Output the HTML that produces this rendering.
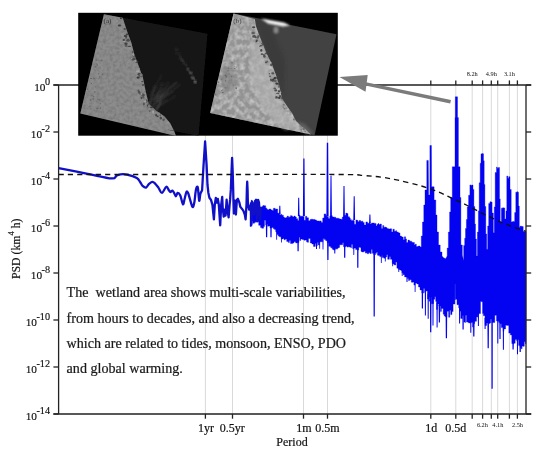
<!DOCTYPE html>
<html><head><meta charset="utf-8"><title>PSD wetland</title>
<style>html,body{margin:0;padding:0;background:#fff;}body{width:550px;height:457px;position:relative;overflow:hidden;}</style>
</head><body>
<svg width="550" height="457" viewBox="0 0 550 457" style="position:absolute;left:0;top:0">
<g stroke="#d9d9d9" stroke-width="1">
<line x1="205.4" y1="85" x2="205.4" y2="414"/>
<line x1="232.5" y1="85" x2="232.5" y2="414"/>
<line x1="303.5" y1="85" x2="303.5" y2="414"/>
<line x1="327.5" y1="85" x2="327.5" y2="414"/>
<line x1="430.8" y1="85" x2="430.8" y2="414"/>
<line x1="455.8" y1="85" x2="455.8" y2="414"/>
<line x1="472.2" y1="85" x2="472.2" y2="414"/>
<line x1="482.6" y1="85" x2="482.6" y2="414"/>
<line x1="491.3" y1="85" x2="491.3" y2="414"/>
<line x1="497.7" y1="85" x2="497.7" y2="414"/>
<line x1="509.4" y1="85" x2="509.4" y2="414"/>
<line x1="517.4" y1="85" x2="517.4" y2="414"/>
</g>
<path d="M250 202.4 L251.1 202.4 L251.1 200.2 L252.1 200.2 L252.1 204.4 L253.5 204.4 L253.5 202 L254.4 202 L254.4 200 L255.7 200 L255.7 201.6 L256.9 201.6 L256.9 200.2 L257.8 200.2 L257.8 202.8 L259.1 202.8 L259.1 205.8 L259.9 205.8 L259.9 209.1 L261.1 209.1 L261.1 208.5 L262 208.5 L262 206.4 L262.9 206.4 L262.9 205.5 L264.1 205.5 L264.1 205.7 L265.7 205.7 L265.7 208 L266.7 208 L266.7 209.2 L267.7 209.2 L267.7 209.8 L269.1 209.8 L269.1 209 L270.9 209 L270.9 209.9 L272.2 209.9 L272.2 210.4 L273.4 210.4 L273.4 208.3 L275.2 208.3 L275.2 209.3 L276.1 209.3 L276.1 209 L277.7 209 L277.7 213.1 L278.8 213.1 L278.8 214.1 L279.8 214.1 L279.8 214.9 L280.7 214.9 L280.7 214.3 L281.8 214.3 L281.8 215.2 L283.4 215.2 L283.4 217.1 L284.4 217.1 L284.4 218.1 L285.8 218.1 L285.8 217.4 L287.2 217.4 L287.2 216.1 L288.4 216.1 L288.4 217.3 L289.7 217.3 L289.7 216.8 L290.6 216.8 L290.6 215.6 L291.4 215.6 L291.4 215.9 L292.5 215.9 L292.5 217 L293.9 217 L293.9 216 L295.2 216 L295.2 217 L296.3 217 L296.3 218.7 L297.7 218.7 L297.7 220.4 L298.9 220.4 L298.9 215.2 L300 215.2 L300 216.2 L301.6 216.2 L301.6 216.3 L303.1 216.3 L303.1 216.4 L304.1 216.4 L304.1 220.3 L305.5 220.3 L305.5 216.3 L306.8 216.3 L306.8 217.8 L308.5 217.8 L308.5 220.8 L310.1 220.8 L310.1 219.5 L311.1 219.5 L311.1 219.2 L312.9 219.2 L312.9 219.5 L313.8 219.5 L313.8 219.4 L315.1 219.4 L315.1 220.1 L316.6 220.1 L316.6 220.9 L317.6 220.9 L317.6 220.9 L318.9 220.9 L318.9 221.2 L319.7 221.2 L319.7 220.9 L321.2 220.9 L321.2 222.5 L322.7 222.5 L322.7 218 L324.1 218 L324.1 213.9 L325.8 213.9 L325.8 215.5 L326.9 215.5 L326.9 216.5 L328.4 216.5 L328.4 218.6 L329.8 218.6 L329.8 216 L331.2 216 L331.2 215.8 L332.4 215.8 L332.4 217 L334.1 217 L334.1 217.2 L335.8 217.2 L335.8 218.3 L337.1 218.3 L337.1 218.2 L338.5 218.2 L338.5 218.6 L339.4 218.6 L339.4 219.1 L340.9 219.1 L340.9 219.2 L342.3 219.2 L342.3 217.1 L344.1 217.1 L344.1 215.3 L345.8 215.3 L345.8 213.1 L346.8 213.1 L346.8 213.6 L348 213.6 L348 216.8 L349.5 216.8 L349.5 218.1 L350.3 218.1 L350.3 219.7 L351.6 219.7 L351.6 221 L352.6 221 L352.6 219.9 L353.5 219.9 L353.5 220.8 L354.3 220.8 L354.3 224.2 L355.9 224.2 L355.9 220 L356.8 220 L356.8 220.3 L357.9 220.3 L357.9 221.7 L359.1 221.7 L359.1 220.5 L360.7 220.5 L360.7 221.5 L361.6 221.5 L361.6 221.2 L362.9 221.2 L362.9 222.4 L364.2 222.4 L364.2 225.1 L365.9 225.1 L365.9 221.9 L367.5 221.9 L367.5 223.3 L369.2 223.3 L369.2 222.5 L370.3 222.5 L370.3 224 L371.5 224 L371.5 223 L372.6 223 L372.6 223 L374.3 223 L374.3 223.4 L376.1 223.4 L376.1 226.1 L377 226.1 L377 224.5 L378 224.5 L378 223.6 L379 223.6 L379 224.6 L380.1 224.6 L380.1 224 L381.4 224 L381.4 228.4 L382.7 228.4 L382.7 225.6 L383.8 225.6 L383.8 227.4 L384.6 227.4 L384.6 227 L385.8 227 L385.8 227.5 L387 227.5 L387 228.5 L388.4 228.5 L388.4 228.9 L390.1 228.9 L390.1 228.8 L391.6 228.8 L391.6 232.1 L392.9 232.1 L392.9 229.2 L394.3 229.2 L394.3 231.3 L395.8 231.3 L395.8 230.7 L396.7 230.7 L396.7 232.1 L398.4 232.1 L398.4 232.9 L400 232.9 L400 236.1 L401.6 236.1 L401.6 237 L403.2 237 L403.2 239.7 L404.4 239.7 L404.4 236.8 L405.6 236.8 L405.6 239 L406.5 239 L406.5 242.5 L408 242.5 L408 240 L408.8 240 L408.8 240.3 L409.7 240.3 L409.7 241.3 L410.7 241.3 L410.7 241.2 L411.7 241.2 L411.7 242.3 L412.8 242.3 L412.8 242.4 L413.6 242.4 L413.6 242.5 L414.4 242.5 L414.4 245 L415.4 245 L415.4 244.1 L416.3 244.1 L416.3 246.4 L417.5 246.4 L417.5 246.6 L418.3 246.6 L418.3 246 L420 246 L420 246.9 L421.3 246.9 L421.3 246 L421.3 236 L422.5 236 L422.5 222 L423.8 222 L423.8 205 L425 205 L425 190 L426.8 190 L426.8 160.4 L428.3 160.4 L428.6 195 L429.9 195 L429.9 145.5 L431.4 145.5 L431.6 186.8 L434.1 186.8 L434.1 200 L435.8 200 L435.8 215 L437 215 L437 232 L438.5 232 L438.5 245 L440.2 245 L440.2 252 L442 252 L442 256 L443.6 257.8 L445.6 258.7 L447.2 256 L447.2 248 L448.4 248 L448.4 232 L449.6 232 L449.6 212 L450.7 212 L450.7 197.5 L452.3 197.5 L452.3 166.8 L455 166.8 L455 117.6 L455.3 117.6 L455.3 96.8 L457.5 96.8 L457.5 117.6 L458.4 117.6 L458.4 166.8 L460 166.8 L460 197.5 L460.9 197.5 L460.9 245 L462.3 245 L462.3 255 L463.7 260.7 L463.7 245.5 L464.7 245.5 L464.7 238.2 L465.5 238.2 L465.5 228.4 L466.4 228.4 L466.4 219.5 L467.3 219.5 L467.3 207 L468.6 207 L468.6 195.3 L469.9 195.3 L469.9 184.9 L470.9 184.9 L470.9 185.5 L471.7 185.5 L471.7 185 L473 185 L473 189.4 L473.9 189.4 L473.9 206.6 L474.8 206.6 L474.8 224.1 L475.5 224.1 L475.5 239 L476.4 239 L476.4 256.1 L477.4 256.1 L477.4 232.1 L478.4 232.1 L478.4 210.9 L479.2 210.9 L479.2 182.8 L480.2 182.8 L480.2 163.2 L481 163.2 L481 153.9 L481.8 153.9 L481.8 153.6 L482.6 153.6 L482.6 153.7 L483.5 153.7 L483.5 160.8 L484.2 160.8 L484.2 184.6 L484.9 184.6 L484.9 206.5 L485.8 206.5 L485.8 234 L486.7 234 L486.7 249.2 L487.7 249.2 L487.7 226.1 L488.7 226.1 L488.7 203.4 L489.9 203.4 L489.9 201.8 L491 201.8 L491 202.1 L492.1 202.1 L492.1 213.1 L493.3 213.1 L493.3 232.7 L494.3 232.7 L494.3 206.9 L495.2 206.9 L495.2 172.4 L496.5 172.4 L496.5 167 L497.2 167 L497.2 168.2 L498.4 168.2 L498.4 167.5 L499.5 167.5 L499.5 198.9 L500.2 198.9 L500.2 222 L501.4 222 L501.4 208.2 L502.6 208.2 L502.6 207.8 L503.7 207.8 L503.7 207.9 L504.8 207.9 L504.8 219 L506 219 L506 210.9 L506.8 210.9 L506.8 176 L507.8 176 L507.8 178.2 L508.8 178.2 L508.8 176.7 L510 176.7 L510 189.5 L511.2 189.5 L511.2 221.9 L512.4 221.9 L512.4 221.6 L513.5 221.6 L513.5 221.4 L514.7 221.4 L514.7 212.5 L515.8 212.5 L515.8 192.2 L516.9 192.2 L516.9 191.8 L517.8 191.8 L517.8 192.2 L518.5 192.2 L518.5 206.1 L519.3 206.1 L519.3 227.3 L520.2 227.3 L520.2 226.1 L520.9 226.1 L520.9 226.3 L522.1 226.3 L522.1 226.6 L523.2 226.6 L523.2 231.5 L524.3 231.5 L524.3 231.5 L525.3 231.5 L525.3 231.6 L526 231.6 L526 343.7 L525.4 343.7 L525.4 341.8 L524.3 341.8 L524.3 346.3 L522.9 346.3 L522.9 345.9 L522.1 345.9 L522.1 348.7 L521.2 348.7 L521.2 347.5 L520.2 347.5 L520.2 345.4 L518.6 345.4 L518.6 339.7 L517.6 339.7 L517.6 340.8 L516.7 340.8 L516.7 339.6 L515.2 339.6 L515.2 343.2 L514 343.2 L514 343.7 L512.9 343.7 L512.9 343.6 L511.8 343.6 L511.8 334.9 L510.4 334.9 L510.4 333.1 L508.8 333.1 L508.8 325.4 L507.2 325.4 L507.2 325.3 L505.6 325.3 L505.6 328.9 L504 328.9 L504 331.3 L503 331.3 L503 327.6 L501.3 327.6 L501.3 323.7 L500 323.7 L500 322.6 L498.8 322.6 L498.8 321.2 L497.7 321.2 L497.7 321 L496.5 321 L496.5 315.3 L494.8 315.3 L494.8 322.4 L493 322.4 L493 322.6 L491.8 322.6 L491.8 318.9 L490.7 318.9 L490.7 322.9 L489.9 322.9 L489.9 323.6 L488.2 323.6 L488.2 322.9 L486.7 322.9 L486.7 325.5 L485 325.5 L485 315.7 L483.4 315.7 L483.4 313.6 L482.6 313.6 L482.6 301.8 L481.6 301.8 L481.6 301.6 L480.5 301.6 L480.5 313.5 L478.9 313.5 L478.9 314.5 L477.9 314.5 L477.9 317 L476.5 317 L476.5 321.3 L474.7 321.3 L474.7 323.6 L473.6 323.6 L473.6 327.1 L472.5 327.1 L472.5 322.4 L470.8 322.4 L470.8 323 L469.2 323 L469.2 322.8 L468.2 322.8 L468.2 322.1 L466.5 322.1 L466.5 315.3 L465.6 315.3 L465.6 322.5 L464.8 322.5 L464.8 322 L463.9 322 L463.9 315.5 L462.4 315.5 L462.4 318.4 L460.7 318.4 L460.7 311.2 L459.5 311.2 L459.5 307.9 L458.7 307.9 L458.7 304.7 L457 304.7 L457 299.2 L455.8 299.2 L455.8 283.8 L454.9 283.8 L454.9 304.1 L453.1 304.1 L453.1 311.5 L452 311.5 L452 314.6 L450.7 314.6 L450.7 310.2 L449.8 310.2 L449.8 317.2 L448.6 317.2 L448.6 311.3 L447 311.3 L447 316.9 L445.4 316.9 L445.4 316.1 L444.2 316.1 L444.2 314.2 L443.2 314.2 L443.2 308.5 L441.4 308.5 L441.4 311.4 L440.5 311.4 L440.5 305.9 L438.8 305.9 L438.8 303.9 L437.6 303.9 L437.6 309.4 L436.5 309.4 L436.5 301.4 L435.7 301.4 L435.7 296.8 L434.8 296.8 L434.8 299.3 L433.6 299.3 L433.6 303.7 L432.4 303.7 L432.4 303.7 L431.3 303.7 L431.3 297.3 L429.8 297.3 L429.8 301.2 L429 301.2 L429 299 L427.4 299 L427.4 290.9 L425.7 290.9 L425.7 292.4 L424.7 292.4 L424.7 288.5 L423.6 288.5 L423.6 293.1 L421.8 293.1 L421.8 289.9 L420 289.9 L420 287 L418.5 287 L418.5 283.9 L416.8 283.9 L416.8 282.9 L415.1 282.9 L415.1 285.1 L413.9 285.1 L413.9 281.9 L413.1 281.9 L413.1 282.2 L412.2 282.2 L412.2 282.2 L411.3 282.2 L411.3 279.8 L409.5 279.8 L409.5 280.6 L408.5 280.6 L408.5 278.5 L407.3 278.5 L407.3 276.9 L406.4 276.9 L406.4 276.9 L404.6 276.9 L404.6 274.7 L403.1 274.7 L403.1 272.7 L401.9 272.7 L401.9 270.5 L400.9 270.5 L400.9 269.9 L399.9 269.9 L399.9 269.5 L398.6 269.5 L398.6 268.2 L396.9 268.2 L396.9 262 L395.8 262 L395.8 264.9 L394.2 264.9 L394.2 264.1 L393.2 264.1 L393.2 263.4 L392.2 263.4 L392.2 259.3 L390.5 259.3 L390.5 256.8 L389.4 256.8 L389.4 259.3 L387.7 259.3 L387.7 254.7 L386.7 254.7 L386.7 257 L385.3 257 L385.3 258.2 L383.8 258.2 L383.8 257.6 L382.2 257.6 L382.2 255.6 L381.2 255.6 L381.2 256.5 L379.7 256.5 L379.7 255.6 L378.5 255.6 L378.5 255.2 L377.4 255.2 L377.4 251.9 L376.5 251.9 L376.5 253.3 L375.5 253.3 L375.5 254.7 L373.8 254.7 L373.8 253.3 L372.3 253.3 L372.3 249.6 L371.3 249.6 L371.3 253.5 L370 253.5 L370 252.8 L368.6 252.8 L368.6 253.8 L367.3 253.8 L367.3 252.8 L366.4 252.8 L366.4 253.1 L365.3 253.1 L365.3 251.3 L363.8 251.3 L363.8 252 L362.1 252 L362.1 251.4 L361 251.4 L361 247.6 L360 247.6 L360 247.2 L358.7 247.2 L358.7 250.1 L357 250.1 L357 249.5 L355.6 249.5 L355.6 248.1 L353.8 248.1 L353.8 248.6 L352.6 248.6 L352.6 244.6 L351.5 244.6 L351.5 247.7 L350.7 247.7 L350.7 247.1 L349.3 247.1 L349.3 246.8 L348.2 246.8 L348.2 247.1 L347 247.1 L347 246.3 L345.7 246.3 L345.7 246.8 L344.3 246.8 L344.3 246.7 L343.5 246.7 L343.5 242.7 L342.6 242.7 L342.6 244.8 L341.1 244.8 L341.1 244.7 L339.6 244.7 L339.6 247.4 L338.6 247.4 L338.6 248 L337.6 248 L337.6 249.1 L336.5 249.1 L336.5 248.8 L335.1 248.8 L335.1 250 L333.4 250 L333.4 249.3 L332.3 249.3 L332.3 247.8 L330.8 247.8 L330.8 246.6 L329.9 246.6 L329.9 246.2 L328.6 246.2 L328.6 242.8 L327.3 242.8 L327.3 240.7 L325.7 240.7 L325.7 239.4 L324.3 239.4 L324.3 238.6 L322.8 238.6 L322.8 241.8 L321 241.8 L321 241.7 L319.5 241.7 L319.5 244.9 L318.2 244.9 L318.2 242.6 L317.3 242.6 L317.3 245.8 L316.4 245.8 L316.4 243.6 L315.3 243.6 L315.3 246.4 L313.5 246.4 L313.5 244 L311.9 244 L311.9 242.9 L310.3 242.9 L310.3 238.4 L308.5 238.4 L308.5 242.3 L307.3 242.3 L307.3 241.7 L306.5 241.7 L306.5 239.9 L305.2 239.9 L305.2 240.2 L303.9 240.2 L303.9 239.5 L302.2 239.5 L302.2 238.9 L300.7 238.9 L300.7 240.6 L299.8 240.6 L299.8 237.3 L299 237.3 L299 242.6 L297.4 242.6 L297.4 242.9 L295.7 242.9 L295.7 241.8 L293.9 241.8 L293.9 243 L292.7 243 L292.7 243.6 L291.5 243.6 L291.5 243.5 L290.5 243.5 L290.5 240.4 L289.4 240.4 L289.4 242.6 L288.4 242.6 L288.4 241.5 L286.7 241.5 L286.7 239.1 L285.3 239.1 L285.3 239.8 L284 239.8 L284 238.4 L283 238.4 L283 238.9 L281.3 238.9 L281.3 236.8 L280.2 236.8 L280.2 236.7 L279.3 236.7 L279.3 236 L278.2 236 L278.2 234.5 L277 234.5 L277 231.8 L275.7 231.8 L275.7 229.4 L274.5 229.4 L274.5 228.8 L273.3 228.8 L273.3 227.5 L271.7 227.5 L271.7 228 L270 228 L270 226.1 L268.7 226.1 L268.7 226.2 L267.6 226.2 L267.6 224.3 L266.6 224.3 L266.6 225 L265.7 225 L265.7 220.3 L264.5 220.3 L264.5 226.4 L263.6 226.4 L263.6 228.2 L262.7 228.2 L262.7 228.2 L261.7 228.2 L261.7 227.4 L260.5 227.4 L260.5 225.3 L258.7 225.3 L258.7 221.7 L257 221.7 L257 221.3 L255.9 221.3 L255.9 222.2 L254.6 222.2 L254.6 223.2 L252.9 223.2 L252.9 221.1 L251.9 221.1 L251.9 226.3 L251 226.3 L251 226.5 L250 226.5 Z" fill="#0303f2" stroke="#0303f2" stroke-width="0.35" stroke-linejoin="round"/>
<path d="M279 214 L279.3 205.8 L280.3 205.8 L280.6 214 Z M297.9 216 L298.2 197.8 L299.2 197.8 L299.5 216 Z M302.9 216 L303.3 158.5 L304.5 158.5 L304.9 216 Z M326.4 216 L326.8 142.8 L328.2 142.8 L328.6 216 Z M330.1 217 L330.5 175.6 L331.5 175.6 L331.9 217 Z M343.1 219 L343.5 186 L344.5 186 L344.9 219 Z M353.3 220 L353.7 196.3 L354.7 196.3 L355.1 220 Z M369.1 223 L369.4 214.5 L370.4 214.5 L370.7 223 Z M265.8 218.1 L266 237.3 L267.2 237.3 L267.4 218.1 Z M270.2 220.3 L270.4 237.3 L271.6 237.3 L271.8 220.3 Z M297.3 234.8 L297.5 251.3 L298.7 251.3 L298.9 234.8 Z M315.9 240 L316 249 L317 249 L317.1 240 Z M327.1 236.3 L327.3 260 L328.5 260 L328.7 236.3 Z M334.2 243 L334.3 253.5 L335.3 253.5 L335.4 243 Z M344 239.4 L344.1 257.8 L345.3 257.8 L345.4 239.4 Z M357.1 242.5 L357.2 267.7 L358.4 267.7 L358.5 242.5 Z M373.4 247.5 L373.6 316.6 L374.8 316.6 L375 247.5 Z M406.4 270.9 L406.5 282 L407.5 282 L407.6 270.9 Z M421.7 285.7 L421.8 308.5 L423 308.5 L423.1 285.7 Z M429.9 296.8 L430.1 332.2 L431.3 332.2 L431.5 296.8 Z M438.6 305 L438.8 322.6 L440 322.6 L440.2 305 Z M445.6 311.2 L445.8 338.3 L447 338.3 L447.2 311.2 Z M462.4 314.6 L462.5 329.6 L463.7 329.6 L463.8 314.6 Z M473 319.6 L473.2 336.4 L474.4 336.4 L474.6 319.6 Z M487.4 319.2 L487.6 348.2 L488.8 348.2 L489 319.2 Z M491.4 318.6 L491.5 388.8 L492.7 388.8 L492.8 318.6 Z M499.3 319.2 L499.4 339 L500.6 339 L500.7 319.2 Z M512.3 339 L512.5 349.5 L513.7 349.5 L513.9 339 Z M519.4 340 L519.6 352.1 L520.8 352.1 L521 340 Z M470.2 317.9 L470.3 332.7 L471.3 332.7 L471.4 317.9 Z M502.8 324.9 L502.9 349.7 L503.9 349.7 L504 324.9 Z M459 302.7 L459.1 323.6 L460.1 323.6 L460.2 302.7 Z M427.6 294.2 L427.7 318.7 L428.7 318.7 L428.8 294.2 Z M424.8 287.7 L424.9 315.6 L425.9 315.6 L426 287.7 Z M497.2 317.6 L497.3 343.5 L498.3 343.5 L498.4 317.6 Z M484.5 317.7 L484.6 329.1 L485.6 329.1 L485.7 317.7 Z M454.6 280.2 L454.7 299.7 L455.7 299.7 L455.8 280.2 Z M432.4 298.5 L432.5 325.4 L433.5 325.4 L433.6 298.5 Z M436.5 302.5 L436.6 327.4 L437.6 327.4 L437.7 302.5 Z M516.9 335.6 L517 354.3 L518 354.3 L518.1 335.6 Z M477.8 309.3 L477.9 326.1 L478.9 326.1 L479 309.3 Z M398.2 261.5 L398.4 271.9 L399.2 271.9 L399.4 261.5 Z M384.8 251.3 L384.9 261.5 L385.7 261.5 L385.9 251.3 Z M414.6 277.7 L414.7 292 L415.5 292 L415.7 277.7 Z M380.8 249.3 L380.9 262.9 L381.7 262.9 L381.9 249.3 Z M353.2 241.5 L353.4 254.9 L354.2 254.9 L354.4 241.5 Z M280.8 230.8 L281 242.6 L281.8 242.6 L281.9 230.8 Z M392.1 256.1 L392.3 266.3 L393.1 266.3 L393.2 256.1 Z M401.6 264.6 L401.8 276.1 L402.6 276.1 L402.8 264.6 Z M319.1 237 L319.3 248.7 L320.1 248.7 L320.2 237 Z M322.4 234.5 L322.6 249.5 L323.4 249.5 L323.6 234.5 Z M276.1 226.3 L276.3 239.7 L277.1 239.7 L277.2 226.3 Z " fill="#0303f2" stroke="none"/>
<path d="M58.6 168.1 C63.5 169.1 78.9 172.1 87.7 173.8 C96.5 175.5 106.7 178.1 111.5 178.4 C116.3 178.8 114.9 176.6 116.4 175.9 C117.9 175.2 118.7 174.5 120.5 174.3 C122.3 174.1 124.3 174 127 174.6 C129.7 175.2 134.6 176.7 136.8 177.9 C139 179.1 139.1 180.7 140.1 182 C141.1 183.3 141.6 185 142.6 185.9 C143.6 186.8 145.1 187.9 146.1 187.6 C147.1 187.3 147.8 185 148.8 184.1 C149.8 183.2 151.3 182 152.3 181.9 C153.3 181.8 153.9 182.4 154.9 183.3 C155.9 184.2 157.2 186 158.4 187.6 C159.6 189.2 160.6 193 161.9 192.9 C163.2 192.8 165.1 187.2 166.3 186.8 C167.5 186.4 168.2 189.4 168.9 190.3 C169.6 191.2 170 191.9 170.6 192 C171.2 192.1 171.8 190.4 172.4 190.6 C173 190.8 173.5 191.9 174.1 192.9 C174.7 193.9 175.3 196.4 175.9 196.4 C176.5 196.4 176.9 193.1 177.6 192.9 C178.3 192.8 179.4 193.6 180.3 195.5 C181.2 197.4 182.2 203.7 182.9 204.3 C183.6 204.9 184 201.1 184.6 199 C185.2 196.9 185.8 193 186.4 192 C187 191 187.5 191.7 188.1 192.9 C188.7 194.1 189.2 196.7 189.9 199 C190.6 201.3 191.8 206.3 192.5 206.9 C193.2 207.5 193.7 205.4 194.3 202.5 C194.9 199.6 195.4 191.9 196 189.4 C196.6 186.9 197.3 185.7 197.8 187.6 C198.3 189.5 198.8 199.8 199.2 200.8 C199.6 201.8 199.9 195.6 200.4 193.8 C200.9 192.1 201.8 190.9 202.1 190.3 L203.4 167.5 L205.1 141.5 L206.6 165 L207.5 185 L208.4 193 L209.4 197.8 L210.9 199.7 L212.4 204.7 L213.9 219.4 L214.8 204.7 L215.8 197.8 L216.8 202.7 L217.8 198.8 L218.8 204.7 L220.2 225.3 L221.2 204.7 L222.2 196.8 L222.7 207.6 L223.7 216.5 L224.7 209.6 L225.6 215.5 L226.6 199.7 L227.6 210.6 L228.6 217.4 L229.6 204.7 L230.1 199.7 L230.8 189.9 L231.5 172 L232.1 157.8 L232.7 172 L233.2 190 L233.4 198.8 L233.9 213.5 L234.9 200.7 L235.9 214.5 L236.9 199.8 L237.9 198.8 L239.4 202.7 L240.3 206.7 L241.8 208.6 L243.3 210.6 L244.8 214.5 L245.6 219.4 L246.5 204.7 L246.9 188 L247.2 181.7 L247.6 190 L247.9 204.7 L249.2 209.6 L250.7 204.7 L251.5 224.4 L252.1 201.7 L252.8 204.7 L254.1 214.5 L255.1 201.7 L256.1 199.8 L257.1 221.4 L258.1 199.8 L259 202.7 L260 219.4 L261 206.7" fill="none" stroke="#1010c8" stroke-width="2.3" stroke-linejoin="round"/>
<path d="M58.6 174.5 C82.2 174.5 153.1 174.5 200 174.5 C246.9 174.5 312.8 174.3 340 174.5 C367.2 174.7 356.2 175.1 363 175.5 C369.8 175.9 375.2 176.3 381 177.1 C386.8 177.9 391.5 178.8 398 180.2 C404.5 181.6 413.3 183.7 420 185.6 C426.7 187.5 432.7 189.7 438 191.8 C443.3 193.9 447.1 196 452 198.3 C456.9 200.6 461.9 202.8 467.3 205.5 C472.8 208.2 478.9 211.8 484.7 214.6 C490.5 217.4 497.1 220.5 502 222.6 C506.9 224.7 510 225.7 514 227.2 C518 228.7 524 230.7 526 231.4" fill="none" stroke="#111" stroke-width="1.35" stroke-dasharray="5.2 4.13"/>
<g stroke="#222" stroke-width="1.3" fill="none">
<path d="M58.6 85 V414 M53.4 85 H531.2 M53.4 414 H531.2 M526 85 V414"/>
<line x1="53.4" y1="85" x2="58.6" y2="85"/>
<line x1="526" y1="85" x2="531.2" y2="85"/>
<line x1="53.4" y1="132" x2="58.6" y2="132"/>
<line x1="526" y1="132" x2="531.2" y2="132"/>
<line x1="53.4" y1="179" x2="58.6" y2="179"/>
<line x1="526" y1="179" x2="531.2" y2="179"/>
<line x1="53.4" y1="226" x2="58.6" y2="226"/>
<line x1="526" y1="226" x2="531.2" y2="226"/>
<line x1="53.4" y1="273" x2="58.6" y2="273"/>
<line x1="526" y1="273" x2="531.2" y2="273"/>
<line x1="53.4" y1="320" x2="58.6" y2="320"/>
<line x1="526" y1="320" x2="531.2" y2="320"/>
<line x1="53.4" y1="367" x2="58.6" y2="367"/>
<line x1="526" y1="367" x2="531.2" y2="367"/>
<line x1="53.4" y1="414" x2="58.6" y2="414"/>
<line x1="526" y1="414" x2="531.2" y2="414"/>
<line x1="430.8" y1="80.4" x2="430.8" y2="85"/>
<line x1="455.8" y1="80.4" x2="455.8" y2="85"/>
<line x1="472.2" y1="80.4" x2="472.2" y2="85"/>
<line x1="482.6" y1="80.4" x2="482.6" y2="85"/>
<line x1="491.3" y1="80.4" x2="491.3" y2="85"/>
<line x1="497.7" y1="80.4" x2="497.7" y2="85"/>
<line x1="509.4" y1="80.4" x2="509.4" y2="85"/>
<line x1="517.4" y1="80.4" x2="517.4" y2="85"/>
<line x1="205.4" y1="414" x2="205.4" y2="418.7"/>
<line x1="232.5" y1="414" x2="232.5" y2="418.7"/>
<line x1="303.5" y1="414" x2="303.5" y2="418.7"/>
<line x1="327.5" y1="414" x2="327.5" y2="418.7"/>
<line x1="430.8" y1="414" x2="430.8" y2="418.7"/>
<line x1="455.8" y1="414" x2="455.8" y2="418.7"/>
<line x1="472.2" y1="414" x2="472.2" y2="418.7"/>
<line x1="482.6" y1="414" x2="482.6" y2="418.7"/>
<line x1="491.3" y1="414" x2="491.3" y2="418.7"/>
<line x1="497.7" y1="414" x2="497.7" y2="418.7"/>
<line x1="509.4" y1="414" x2="509.4" y2="418.7"/>
<line x1="517.4" y1="414" x2="517.4" y2="418.7"/>
</g>
<defs>
<filter id="tex" x="0" y="0" width="1" height="1"><feTurbulence type="fractalNoise" baseFrequency="0.3" numOctaves="2" seed="5" result="n"/><feColorMatrix in="n" type="matrix" values="0 0 0 0 0  0 0 0 0 0  0 0 0 0 0  0.6 0 0 0 -0.22" result="m"/><feComposite in="m" in2="SourceGraphic" operator="in" result="c"/><feMerge><feMergeNode in="SourceGraphic"/><feMergeNode in="c"/></feMerge></filter><filter id="tex2" x="0" y="0" width="1" height="1"><feTurbulence type="fractalNoise" baseFrequency="0.2" numOctaves="2" seed="9" result="n"/><feColorMatrix in="n" type="matrix" values="0 0 0 0 1  0 0 0 0 1  0 0 0 0 1  0.8 0 0 0 -0.3" result="m"/><feComposite in="m" in2="SourceGraphic" operator="in" result="c"/><feMerge><feMergeNode in="SourceGraphic"/><feMergeNode in="c"/></feMerge></filter><filter id="blur1" x="-20%" y="-20%" width="140%" height="140%"><feGaussianBlur stdDeviation="0.8"/></filter><filter id="blur2" x="-20%" y="-20%" width="140%" height="140%"><feGaussianBlur stdDeviation="1.6"/></filter><filter id="soft"><feGaussianBlur stdDeviation="0.45"/></filter><clipPath id="clipA"><polygon points="103.9,14.2 207.5,33.8 198.5,135.7 80.3,113.6"/></clipPath><clipPath id="clipB"><polygon points="233.5,13.4 336.5,34.2 314.6,135.2 210.1,113"/></clipPath><clipPath id="clipI"><rect x="78.2" y="12.8" width="259.6" height="122.9"/></clipPath>
</defs>
<rect x="78.2" y="12.8" width="259.6" height="122.9" fill="#000"/>
<g clip-path="url(#clipI)"><g filter="url(#soft)">
<polygon points="103.9,14.2 207.5,33.8 198.5,135.7 80.3,113.6" fill="#171717"/>
<polygon points="103.9,14.2 122.7,17.8 127,31.1 131.4,42.7 134.3,54.3 138.6,65.8 142.9,77.4 145.8,91.8 148.7,103.4 156,110.6 164.6,116.4 170.4,123.6 174.7,132.3 176,136 80.3,113.6" fill="#8c8c8c" filter="url(#tex)"/>
<ellipse cx="175.9" cy="49.1" rx="0.8" ry="0.8" fill="rgb(50,50,50)" filter="url(#blur1)"/>
<ellipse cx="176.9" cy="49.5" rx="0.9" ry="0.9" fill="rgb(50,50,50)" filter="url(#blur1)"/>
<ellipse cx="176.6" cy="50.9" rx="1.1" ry="0.8" fill="rgb(50,50,50)" filter="url(#blur1)"/>
<ellipse cx="177.2" cy="53.4" rx="1" ry="0.8" fill="rgb(52,52,52)" filter="url(#blur1)"/>
<ellipse cx="178.1" cy="52.7" rx="0.5" ry="0.6" fill="rgb(53,53,53)" filter="url(#blur1)"/>
<ellipse cx="178.9" cy="53.8" rx="0.8" ry="0.9" fill="rgb(54,54,54)" filter="url(#blur1)"/>
<ellipse cx="180.2" cy="56.2" rx="1" ry="0.7" fill="rgb(56,56,56)" filter="url(#blur1)"/>
<ellipse cx="180.4" cy="58.1" rx="1.1" ry="0.9" fill="rgb(61,61,61)" filter="url(#blur1)"/>
<ellipse cx="181.1" cy="57.7" rx="0.5" ry="0.9" fill="rgb(61,61,61)" filter="url(#blur1)"/>
<ellipse cx="182" cy="60.1" rx="1.2" ry="0.9" fill="rgb(64,64,64)" filter="url(#blur1)"/>
<ellipse cx="181.9" cy="60" rx="0.8" ry="1" fill="rgb(71,71,71)" filter="url(#blur1)"/>
<ellipse cx="183.4" cy="60.9" rx="1" ry="0.6" fill="rgb(74,74,74)" filter="url(#blur1)"/>
<ellipse cx="183.5" cy="62.5" rx="1" ry="0.6" fill="rgb(82,82,82)" filter="url(#blur1)"/>
<ellipse cx="184.5" cy="63.2" rx="1.1" ry="0.6" fill="rgb(77,77,77)" filter="url(#blur1)"/>
<ellipse cx="185.8" cy="65.1" rx="1" ry="0.6" fill="rgb(83,83,83)" filter="url(#blur1)"/>
<ellipse cx="186.6" cy="65.6" rx="0.6" ry="0.6" fill="rgb(91,91,91)" filter="url(#blur1)"/>
<ellipse cx="188" cy="68.1" rx="1.1" ry="0.6" fill="rgb(95,95,95)" filter="url(#blur1)"/>
<ellipse cx="187.5" cy="69.3" rx="0.6" ry="1" fill="rgb(108,108,108)" filter="url(#blur1)"/>
<ellipse cx="187.8" cy="69.3" rx="0.7" ry="0.6" fill="rgb(118,118,118)" filter="url(#blur1)"/>
<ellipse cx="188.3" cy="70.1" rx="0.7" ry="0.8" fill="rgb(121,121,121)" filter="url(#blur1)"/>
<ellipse cx="189.5" cy="72" rx="0.8" ry="0.8" fill="rgb(139,139,139)" filter="url(#blur1)"/>
<ellipse cx="191.2" cy="72.6" rx="1.1" ry="0.9" fill="rgb(124,124,124)" filter="url(#blur1)"/>
<ellipse cx="190.7" cy="73.8" rx="1.2" ry="0.6" fill="rgb(150,150,150)" filter="url(#blur1)"/>
<ellipse cx="192.8" cy="76.3" rx="0.8" ry="0.6" fill="rgb(155,155,155)" filter="url(#blur1)"/>
<ellipse cx="191.6" cy="77.6" rx="1" ry="0.6" fill="rgb(150,150,150)" filter="url(#blur1)"/>
<ellipse cx="193.9" cy="78.1" rx="0.6" ry="0.9" fill="rgb(161,161,161)" filter="url(#blur1)"/>
<ellipse cx="193.1" cy="78.5" rx="1.1" ry="0.8" fill="rgb(182,182,182)" filter="url(#blur1)"/>
<ellipse cx="194.2" cy="81" rx="0.5" ry="0.6" fill="rgb(175,175,175)" filter="url(#blur1)"/>
<ellipse cx="195.2" cy="80.5" rx="0.8" ry="0.8" fill="rgb(183,183,183)" filter="url(#blur1)"/>
<ellipse cx="195.3" cy="82.2" rx="1.2" ry="0.8" fill="rgb(233,233,233)" filter="url(#blur1)"/>
<line x1="155.3" y1="105.4" x2="159.2" y2="95.3" stroke="rgb(51,51,51)" stroke-width="0.8" opacity="0.8" filter="url(#blur1)"/>
<line x1="152.7" y1="101.7" x2="157.9" y2="92.3" stroke="rgb(88,88,88)" stroke-width="0.8" opacity="0.8" filter="url(#blur1)"/>
<line x1="154.6" y1="103.7" x2="167.3" y2="92.3" stroke="rgb(54,54,54)" stroke-width="0.8" opacity="0.8" filter="url(#blur1)"/>
<line x1="147.9" y1="104.7" x2="170.1" y2="84.9" stroke="rgb(58,58,58)" stroke-width="0.8" opacity="0.8" filter="url(#blur1)"/>
<line x1="156.5" y1="110.6" x2="169.4" y2="89.1" stroke="rgb(54,54,54)" stroke-width="0.8" opacity="0.8" filter="url(#blur1)"/>
<line x1="157.5" y1="102.7" x2="179.9" y2="84.3" stroke="rgb(86,86,86)" stroke-width="0.8" opacity="0.8" filter="url(#blur1)"/>
<line x1="147.2" y1="106.6" x2="152.6" y2="97.9" stroke="rgb(54,54,54)" stroke-width="0.8" opacity="0.8" filter="url(#blur1)"/>
<line x1="148" y1="106.2" x2="173.3" y2="91.4" stroke="rgb(71,71,71)" stroke-width="0.8" opacity="0.8" filter="url(#blur1)"/>
<line x1="151.7" y1="107.8" x2="164.6" y2="92.9" stroke="rgb(84,84,84)" stroke-width="0.8" opacity="0.8" filter="url(#blur1)"/>
<line x1="148" y1="108" x2="154.5" y2="85.7" stroke="rgb(80,80,80)" stroke-width="0.8" opacity="0.8" filter="url(#blur1)"/>
<line x1="147.3" y1="111.3" x2="156.6" y2="85.8" stroke="rgb(81,81,81)" stroke-width="0.8" opacity="0.8" filter="url(#blur1)"/>
<line x1="150.1" y1="96.2" x2="162" y2="74.3" stroke="rgb(62,62,62)" stroke-width="0.8" opacity="0.8" filter="url(#blur1)"/>
<line x1="153.2" y1="108.1" x2="168.6" y2="81.8" stroke="rgb(81,81,81)" stroke-width="0.8" opacity="0.8" filter="url(#blur1)"/>
<line x1="157.7" y1="101.2" x2="167.9" y2="91.1" stroke="rgb(77,77,77)" stroke-width="0.8" opacity="0.8" filter="url(#blur1)"/>
<line x1="156.6" y1="108.1" x2="162.6" y2="94.6" stroke="rgb(64,64,64)" stroke-width="0.8" opacity="0.8" filter="url(#blur1)"/>
<line x1="154" y1="101.1" x2="161.5" y2="81.5" stroke="rgb(52,52,52)" stroke-width="0.8" opacity="0.8" filter="url(#blur1)"/>
<line x1="155.5" y1="111.2" x2="161.9" y2="99" stroke="rgb(78,78,78)" stroke-width="0.8" opacity="0.8" filter="url(#blur1)"/>
<line x1="152.7" y1="110.8" x2="167.2" y2="99.6" stroke="rgb(83,83,83)" stroke-width="0.8" opacity="0.8" filter="url(#blur1)"/>
<line x1="152.9" y1="101" x2="178.1" y2="81.9" stroke="rgb(78,78,78)" stroke-width="0.8" opacity="0.8" filter="url(#blur1)"/>
<line x1="150.8" y1="109.3" x2="161.6" y2="88.5" stroke="rgb(67,67,67)" stroke-width="0.8" opacity="0.8" filter="url(#blur1)"/>
<line x1="153.8" y1="100.9" x2="161.9" y2="94.3" stroke="rgb(58,58,58)" stroke-width="0.8" opacity="0.8" filter="url(#blur1)"/>
<line x1="151.9" y1="99" x2="163.9" y2="88.8" stroke="rgb(59,59,59)" stroke-width="0.8" opacity="0.8" filter="url(#blur1)"/>
<line x1="156.6" y1="111.7" x2="160.8" y2="100.1" stroke="rgb(84,84,84)" stroke-width="0.8" opacity="0.8" filter="url(#blur1)"/>
<line x1="154.9" y1="108.9" x2="176.1" y2="95.7" stroke="rgb(62,62,62)" stroke-width="0.8" opacity="0.8" filter="url(#blur1)"/>
<line x1="156.9" y1="100.1" x2="176.4" y2="82" stroke="rgb(84,84,84)" stroke-width="0.8" opacity="0.8" filter="url(#blur1)"/>
<line x1="155.6" y1="98.9" x2="163.6" y2="83.2" stroke="rgb(83,83,83)" stroke-width="0.8" opacity="0.8" filter="url(#blur1)"/>
<polygon points="233.5,13.4 336.5,34.2 314.6,135.2 210.1,113" fill="#424242"/>
<polygon points="254.8,18.9 268,21 285,60 284,95 272,70" fill="#3a3a3a" filter="url(#blur2)"/>
<polygon points="296,121 305,124 314,134 305,134" fill="#6a6a6a" opacity="0.7" filter="url(#blur2)"/>
<polygon points="233.5,13.4 254.8,18.9 256.2,27.1 260.5,38.5 266.2,52.7 271.9,64.1 276.1,75.5 279.6,86.8 281.8,98.2 287.5,106.8 292,113 296,121 300,125 305,129 311,134.5 210.1,113" fill="#939393" filter="url(#tex2)"/>
<polygon points="250,40 262,45 272,80 283,108 300,128 285,130 262,110 250,80" fill="#b4b4b4" opacity="0.6" filter="url(#blur2)"/>
<polygon points="224,65 233,68 236,85 228,92 220,86" fill="#7c7c7c" opacity="0.6" filter="url(#blur2)"/>
<path d="M261 18.5 L284 22.5 L290 25.5 L283 26.5 L268 23.5 Z" fill="#f0f0f0" filter="url(#blur1)"/>
<ellipse cx="276" cy="30" rx="2.5" ry="3.5" fill="#8a8a8a" filter="url(#blur1)"/>
<g clip-path="url(#clipA)">
<ellipse cx="155.9" cy="114.2" rx="0.8" ry="1.5" fill="rgb(59,59,59)" opacity="0.85"/>
<ellipse cx="171.8" cy="133.7" rx="1.1" ry="1.2" fill="rgb(45,45,45)" opacity="0.85"/>
<ellipse cx="156.2" cy="115.2" rx="0.8" ry="1.4" fill="rgb(58,58,58)" opacity="0.85"/>
<ellipse cx="173.1" cy="131.6" rx="1.8" ry="1.5" fill="rgb(69,69,69)" opacity="0.85"/>
<ellipse cx="157.8" cy="116.3" rx="1.1" ry="0.8" fill="rgb(46,46,46)" opacity="0.85"/>
<ellipse cx="148" cy="105.9" rx="0.9" ry="1.4" fill="rgb(46,46,46)" opacity="0.85"/>
<ellipse cx="146.5" cy="101.1" rx="1.2" ry="1.5" fill="rgb(53,53,53)" opacity="0.85"/>
<ellipse cx="170.5" cy="134.2" rx="1.3" ry="1.3" fill="rgb(76,76,76)" opacity="0.85"/>
<ellipse cx="132.1" cy="59.4" rx="1.4" ry="1.1" fill="rgb(165,165,165)" opacity="0.85"/>
<ellipse cx="153.3" cy="112.1" rx="0.9" ry="1.4" fill="rgb(169,169,169)" opacity="0.85"/>
<ellipse cx="156.3" cy="113.6" rx="0.8" ry="0.7" fill="rgb(79,79,79)" opacity="0.85"/>
<ellipse cx="139.1" cy="92.1" rx="1.3" ry="1.5" fill="rgb(70,70,70)" opacity="0.85"/>
<ellipse cx="124.2" cy="36.8" rx="1.2" ry="1.5" fill="rgb(79,79,79)" opacity="0.85"/>
<ellipse cx="143" cy="94.9" rx="1.7" ry="1.5" fill="rgb(72,72,72)" opacity="0.85"/>
<ellipse cx="151.3" cy="107.2" rx="1.7" ry="0.8" fill="rgb(46,46,46)" opacity="0.85"/>
<ellipse cx="121.3" cy="18.3" rx="1.1" ry="1" fill="rgb(63,63,63)" opacity="0.85"/>
<ellipse cx="163.7" cy="120" rx="1.4" ry="1.3" fill="rgb(77,77,77)" opacity="0.85"/>
<ellipse cx="172.1" cy="134.3" rx="1.6" ry="1.2" fill="rgb(71,71,71)" opacity="0.85"/>
<ellipse cx="153.2" cy="111.8" rx="0.9" ry="1.2" fill="rgb(163,163,163)" opacity="0.85"/>
<ellipse cx="167.6" cy="122.6" rx="1.7" ry="1" fill="rgb(152,152,152)" opacity="0.85"/>
<ellipse cx="143.7" cy="90.2" rx="1.7" ry="0.8" fill="rgb(142,142,142)" opacity="0.85"/>
<ellipse cx="133.8" cy="55.8" rx="1.6" ry="1.1" fill="rgb(72,72,72)" opacity="0.85"/>
<ellipse cx="171.7" cy="132.8" rx="0.8" ry="1.2" fill="rgb(131,131,131)" opacity="0.85"/>
<ellipse cx="138.7" cy="90.5" rx="1.4" ry="1" fill="rgb(77,77,77)" opacity="0.85"/>
<ellipse cx="168.3" cy="130.8" rx="0.7" ry="1.2" fill="rgb(46,46,46)" opacity="0.85"/>
<ellipse cx="160.2" cy="115.8" rx="0.9" ry="1.4" fill="rgb(52,52,52)" opacity="0.85"/>
<ellipse cx="141.5" cy="76.6" rx="0.8" ry="0.8" fill="rgb(74,74,74)" opacity="0.85"/>
<ellipse cx="143.3" cy="97.2" rx="1.1" ry="1.2" fill="rgb(83,83,83)" opacity="0.85"/>
<ellipse cx="124.7" cy="29" rx="1.2" ry="0.9" fill="rgb(68,68,68)" opacity="0.85"/>
<ellipse cx="126" cy="43.8" rx="1.6" ry="1.3" fill="rgb(50,50,50)" opacity="0.85"/>
<ellipse cx="170.2" cy="131.8" rx="1.8" ry="1.4" fill="rgb(82,82,82)" opacity="0.85"/>
<ellipse cx="138.5" cy="69" rx="1.6" ry="1" fill="rgb(140,140,140)" opacity="0.85"/>
<ellipse cx="140.4" cy="90.1" rx="1.2" ry="1.3" fill="rgb(141,141,141)" opacity="0.85"/>
<ellipse cx="128" cy="40.3" rx="1.8" ry="1.5" fill="rgb(67,67,67)" opacity="0.85"/>
<ellipse cx="117.1" cy="20.9" rx="0.9" ry="1" fill="rgb(151,151,151)" opacity="0.85"/>
<ellipse cx="129.9" cy="48.9" rx="1.5" ry="1.3" fill="rgb(143,143,143)" opacity="0.85"/>
<ellipse cx="160.2" cy="116.6" rx="1.2" ry="1.1" fill="rgb(146,146,146)" opacity="0.85"/>
<ellipse cx="136.5" cy="61.8" rx="1.7" ry="1.2" fill="rgb(62,62,62)" opacity="0.85"/>
<ellipse cx="155.7" cy="113" rx="1.4" ry="1.4" fill="rgb(136,136,136)" opacity="0.85"/>
<ellipse cx="124.6" cy="37.5" rx="1.7" ry="0.8" fill="rgb(154,154,154)" opacity="0.85"/>
<ellipse cx="149.7" cy="110.4" rx="0.8" ry="1.5" fill="rgb(83,83,83)" opacity="0.85"/>
<ellipse cx="143.5" cy="95.1" rx="1" ry="1.3" fill="rgb(78,78,78)" opacity="0.85"/>
<ellipse cx="159.2" cy="116" rx="0.7" ry="0.9" fill="rgb(131,131,131)" opacity="0.85"/>
<ellipse cx="122.3" cy="26.2" rx="1.7" ry="1.3" fill="rgb(133,133,133)" opacity="0.85"/>
<ellipse cx="120" cy="25.5" rx="1.2" ry="1.1" fill="rgb(59,59,59)" opacity="0.85"/>
<ellipse cx="133.4" cy="54.8" rx="0.9" ry="1.5" fill="rgb(159,159,159)" opacity="0.85"/>
<ellipse cx="135.6" cy="61.2" rx="0.8" ry="1.4" fill="rgb(159,159,159)" opacity="0.85"/>
<ellipse cx="143.1" cy="85" rx="1.2" ry="0.9" fill="rgb(71,71,71)" opacity="0.85"/>
<ellipse cx="165.7" cy="121.3" rx="1.8" ry="1.3" fill="rgb(138,138,138)" opacity="0.85"/>
<ellipse cx="132.6" cy="59.8" rx="1.4" ry="1" fill="rgb(77,77,77)" opacity="0.85"/>
<ellipse cx="136" cy="72.9" rx="1.4" ry="1.3" fill="rgb(142,142,142)" opacity="0.85"/>
<ellipse cx="134.6" cy="65.2" rx="1.7" ry="0.7" fill="rgb(142,142,142)" opacity="0.85"/>
<ellipse cx="120.6" cy="17.9" rx="0.8" ry="1.2" fill="rgb(47,47,47)" opacity="0.85"/>
<ellipse cx="123.9" cy="39.9" rx="1.4" ry="1" fill="rgb(60,60,60)" opacity="0.85"/>
<ellipse cx="148.6" cy="105.9" rx="1.6" ry="0.8" fill="rgb(53,53,53)" opacity="0.85"/>
<ellipse cx="123.1" cy="36.3" rx="1.2" ry="1.3" fill="rgb(143,143,143)" opacity="0.85"/>
<ellipse cx="145.3" cy="101.2" rx="1.1" ry="1.2" fill="rgb(168,168,168)" opacity="0.85"/>
<ellipse cx="174.1" cy="135.4" rx="0.8" ry="1.4" fill="rgb(167,167,167)" opacity="0.85"/>
<ellipse cx="126.1" cy="37.4" rx="1" ry="1.4" fill="rgb(74,74,74)" opacity="0.85"/>
<ellipse cx="121.9" cy="34.7" rx="1.3" ry="1.3" fill="rgb(149,149,149)" opacity="0.85"/>
<ellipse cx="142.3" cy="81.5" rx="1.1" ry="0.8" fill="rgb(65,65,65)" opacity="0.85"/>
<ellipse cx="170.9" cy="133.9" rx="1.2" ry="1.4" fill="rgb(147,147,147)" opacity="0.85"/>
<ellipse cx="138.6" cy="71.1" rx="1" ry="1" fill="rgb(163,163,163)" opacity="0.85"/>
<ellipse cx="138.1" cy="77.7" rx="1.5" ry="1" fill="rgb(57,57,57)" opacity="0.85"/>
<ellipse cx="141.4" cy="98.1" rx="0.8" ry="1.1" fill="rgb(56,56,56)" opacity="0.85"/>
<ellipse cx="140.2" cy="75.2" rx="1.3" ry="1.5" fill="rgb(55,55,55)" opacity="0.85"/>
<ellipse cx="170.8" cy="130.9" rx="1.6" ry="0.8" fill="rgb(64,64,64)" opacity="0.85"/>
<ellipse cx="127" cy="34.3" rx="1.4" ry="0.8" fill="rgb(46,46,46)" opacity="0.85"/>
<ellipse cx="172.5" cy="135.3" rx="1.6" ry="1.1" fill="rgb(161,161,161)" opacity="0.85"/>
<ellipse cx="148.9" cy="106.2" rx="1.3" ry="1.2" fill="rgb(138,138,138)" opacity="0.85"/>
<ellipse cx="170.3" cy="132.6" rx="1.7" ry="1.4" fill="rgb(67,67,67)" opacity="0.85"/>
<ellipse cx="124.2" cy="41.4" rx="1.1" ry="0.7" fill="rgb(163,163,163)" opacity="0.85"/>
<ellipse cx="125.6" cy="36" rx="1.8" ry="1" fill="rgb(55,55,55)" opacity="0.85"/>
<ellipse cx="129.3" cy="46.4" rx="1.8" ry="0.7" fill="rgb(62,62,62)" opacity="0.85"/>
<ellipse cx="139.3" cy="74.3" rx="1.7" ry="1.3" fill="rgb(56,56,56)" opacity="0.85"/>
<ellipse cx="118.8" cy="25.6" rx="0.9" ry="1" fill="rgb(51,51,51)" opacity="0.85"/>
<ellipse cx="160.8" cy="118.1" rx="1.2" ry="1.5" fill="rgb(59,59,59)" opacity="0.85"/>
<ellipse cx="140.9" cy="93.8" rx="1.8" ry="1.2" fill="rgb(80,80,80)" opacity="0.85"/>
<ellipse cx="137.6" cy="71.4" rx="1.6" ry="0.8" fill="rgb(165,165,165)" opacity="0.85"/>
<ellipse cx="134.1" cy="58.9" rx="1.8" ry="1.4" fill="rgb(69,69,69)" opacity="0.85"/>
<ellipse cx="141.1" cy="74.9" rx="1.7" ry="1.5" fill="rgb(130,130,130)" opacity="0.85"/>
<ellipse cx="149.4" cy="109.1" rx="1.2" ry="1.3" fill="rgb(140,140,140)" opacity="0.85"/>
<ellipse cx="126" cy="45.7" rx="1.5" ry="1.2" fill="rgb(85,85,85)" opacity="0.85"/>
<ellipse cx="159.1" cy="113.7" rx="0.9" ry="1.5" fill="rgb(130,130,130)" opacity="0.85"/>
<ellipse cx="132.7" cy="52.2" rx="0.8" ry="1.1" fill="rgb(78,78,78)" opacity="0.85"/>
<ellipse cx="143.9" cy="104" rx="1" ry="1.4" fill="rgb(77,77,77)" opacity="0.85"/>
<ellipse cx="141.4" cy="94" rx="0.9" ry="1.2" fill="rgb(158,158,158)" opacity="0.85"/>
<ellipse cx="153.6" cy="113.5" rx="1" ry="0.8" fill="rgb(150,150,150)" opacity="0.85"/>
<ellipse cx="138.1" cy="77.4" rx="1.5" ry="0.8" fill="rgb(49,49,49)" opacity="0.85"/>
<ellipse cx="142.4" cy="99.6" rx="1.4" ry="0.7" fill="rgb(137,137,137)" opacity="0.85"/>
<ellipse cx="91.9" cy="95.5" rx="0.6" ry="0.5" fill="rgb(85,85,85)" opacity="0.7"/>
<ellipse cx="100.2" cy="103.8" rx="0.9" ry="0.5" fill="rgb(83,83,83)" opacity="0.7"/>
<ellipse cx="97.2" cy="108.4" rx="1" ry="0.9" fill="rgb(89,89,89)" opacity="0.7"/>
<ellipse cx="95.7" cy="60" rx="0.5" ry="0.8" fill="rgb(82,82,82)" opacity="0.7"/>
<ellipse cx="90.9" cy="108.9" rx="0.8" ry="0.6" fill="rgb(100,100,100)" opacity="0.7"/>
<ellipse cx="101.4" cy="60.3" rx="0.8" ry="0.5" fill="rgb(79,79,79)" opacity="0.7"/>
<ellipse cx="97.2" cy="65.2" rx="0.6" ry="0.9" fill="rgb(82,82,82)" opacity="0.7"/>
<ellipse cx="96.4" cy="60.1" rx="0.4" ry="1" fill="rgb(84,84,84)" opacity="0.7"/>
<ellipse cx="93.1" cy="99" rx="1" ry="0.7" fill="rgb(91,91,91)" opacity="0.7"/>
<ellipse cx="94.7" cy="91.9" rx="0.9" ry="0.6" fill="rgb(79,79,79)" opacity="0.7"/>
<ellipse cx="91" cy="78.5" rx="0.8" ry="0.8" fill="rgb(70,70,70)" opacity="0.7"/>
<ellipse cx="90.7" cy="100" rx="0.8" ry="0.8" fill="rgb(85,85,85)" opacity="0.7"/>
<ellipse cx="84.4" cy="73.9" rx="0.6" ry="0.7" fill="rgb(91,91,91)" opacity="0.7"/>
<ellipse cx="95.7" cy="66.7" rx="0.9" ry="0.9" fill="rgb(91,91,91)" opacity="0.7"/>
<ellipse cx="96.8" cy="64" rx="0.9" ry="0.7" fill="rgb(104,104,104)" opacity="0.7"/>
<ellipse cx="91.4" cy="83.5" rx="0.7" ry="0.5" fill="rgb(79,79,79)" opacity="0.7"/>
<ellipse cx="103.6" cy="111.9" rx="0.7" ry="0.4" fill="rgb(82,82,82)" opacity="0.7"/>
<ellipse cx="97.8" cy="99.3" rx="0.5" ry="0.7" fill="rgb(78,78,78)" opacity="0.7"/>
<ellipse cx="98.6" cy="73.8" rx="0.6" ry="0.9" fill="rgb(93,93,93)" opacity="0.7"/>
<ellipse cx="93.5" cy="96.6" rx="0.9" ry="0.7" fill="rgb(85,85,85)" opacity="0.7"/>
<ellipse cx="95.8" cy="86.9" rx="0.5" ry="0.8" fill="rgb(86,86,86)" opacity="0.7"/>
<ellipse cx="102.8" cy="74.1" rx="0.5" ry="0.9" fill="rgb(79,79,79)" opacity="0.7"/>
<ellipse cx="90.1" cy="106.1" rx="0.9" ry="0.6" fill="rgb(85,85,85)" opacity="0.7"/>
<ellipse cx="87.5" cy="89.1" rx="0.7" ry="0.6" fill="rgb(74,74,74)" opacity="0.7"/>
<ellipse cx="100.4" cy="108" rx="0.6" ry="0.8" fill="rgb(78,78,78)" opacity="0.7"/>
<ellipse cx="99.5" cy="76.8" rx="0.5" ry="0.6" fill="rgb(71,71,71)" opacity="0.7"/>
<ellipse cx="84.7" cy="85.1" rx="0.7" ry="0.5" fill="rgb(77,77,77)" opacity="0.7"/>
<ellipse cx="94.9" cy="70" rx="0.4" ry="0.9" fill="rgb(91,91,91)" opacity="0.7"/>
<ellipse cx="99.2" cy="99.9" rx="1" ry="0.8" fill="rgb(95,95,95)" opacity="0.7"/>
<ellipse cx="93.9" cy="78.5" rx="0.9" ry="0.7" fill="rgb(96,96,96)" opacity="0.7"/>
</g><g clip-path="url(#clipB)">
<ellipse cx="269.4" cy="73.7" rx="0.8" ry="0.8" fill="rgb(72,72,72)" opacity="0.85"/>
<ellipse cx="273.4" cy="79.2" rx="1.1" ry="0.7" fill="rgb(46,46,46)" opacity="0.85"/>
<ellipse cx="277.6" cy="93.8" rx="1.5" ry="1" fill="rgb(65,65,65)" opacity="0.85"/>
<ellipse cx="277.1" cy="85.4" rx="1.3" ry="1" fill="rgb(165,165,165)" opacity="0.85"/>
<ellipse cx="257.1" cy="32.5" rx="1" ry="1" fill="rgb(184,184,184)" opacity="0.85"/>
<ellipse cx="258.5" cy="51" rx="1.7" ry="1.1" fill="rgb(173,173,173)" opacity="0.85"/>
<ellipse cx="256.4" cy="41.6" rx="0.8" ry="1.4" fill="rgb(49,49,49)" opacity="0.85"/>
<ellipse cx="255.8" cy="37.2" rx="1" ry="1" fill="rgb(63,63,63)" opacity="0.85"/>
<ellipse cx="263.8" cy="54.7" rx="1.1" ry="1" fill="rgb(78,78,78)" opacity="0.85"/>
<ellipse cx="274.4" cy="78.1" rx="1" ry="1.1" fill="rgb(65,65,65)" opacity="0.85"/>
<ellipse cx="273.8" cy="74.1" rx="0.9" ry="1.4" fill="rgb(153,153,153)" opacity="0.85"/>
<ellipse cx="270.7" cy="63" rx="0.9" ry="1.2" fill="rgb(185,185,185)" opacity="0.85"/>
<ellipse cx="259.1" cy="52" rx="1.5" ry="1" fill="rgb(169,169,169)" opacity="0.85"/>
<ellipse cx="266" cy="62.6" rx="1.2" ry="0.8" fill="rgb(73,73,73)" opacity="0.85"/>
<ellipse cx="261.9" cy="54.1" rx="1.3" ry="0.9" fill="rgb(60,60,60)" opacity="0.85"/>
<ellipse cx="263.5" cy="56.9" rx="1" ry="1" fill="rgb(183,183,183)" opacity="0.85"/>
<ellipse cx="262" cy="48" rx="1.2" ry="0.8" fill="rgb(155,155,155)" opacity="0.85"/>
<ellipse cx="270" cy="76.3" rx="1" ry="0.9" fill="rgb(82,82,82)" opacity="0.85"/>
<ellipse cx="274.1" cy="76.5" rx="0.9" ry="1.3" fill="rgb(165,165,165)" opacity="0.85"/>
<ellipse cx="250.7" cy="29.2" rx="1.4" ry="1.5" fill="rgb(152,152,152)" opacity="0.85"/>
<ellipse cx="270.9" cy="79.8" rx="0.8" ry="1.4" fill="rgb(56,56,56)" opacity="0.85"/>
<ellipse cx="264.4" cy="56.4" rx="1.3" ry="1.4" fill="rgb(63,63,63)" opacity="0.85"/>
<ellipse cx="276.4" cy="98" rx="1.6" ry="0.8" fill="rgb(83,83,83)" opacity="0.85"/>
<ellipse cx="272.8" cy="80.4" rx="1.6" ry="1.4" fill="rgb(61,61,61)" opacity="0.85"/>
<ellipse cx="257.9" cy="42.2" rx="1" ry="0.9" fill="rgb(181,181,181)" opacity="0.85"/>
<ellipse cx="276.3" cy="87.4" rx="0.9" ry="0.7" fill="rgb(170,170,170)" opacity="0.85"/>
<ellipse cx="271.5" cy="73.3" rx="0.8" ry="1.5" fill="rgb(151,151,151)" opacity="0.85"/>
<ellipse cx="274.1" cy="82.7" rx="0.8" ry="1.1" fill="rgb(159,159,159)" opacity="0.85"/>
<ellipse cx="275.8" cy="90.4" rx="1.6" ry="1.1" fill="rgb(61,61,61)" opacity="0.85"/>
<ellipse cx="279.8" cy="96.2" rx="1.3" ry="1.3" fill="rgb(55,55,55)" opacity="0.85"/>
<ellipse cx="278" cy="84.4" rx="1.5" ry="1.3" fill="rgb(68,68,68)" opacity="0.85"/>
<ellipse cx="251.3" cy="28.6" rx="0.9" ry="1.1" fill="rgb(158,158,158)" opacity="0.85"/>
<ellipse cx="281.2" cy="98" rx="0.9" ry="1" fill="rgb(78,78,78)" opacity="0.85"/>
<ellipse cx="262.3" cy="58.1" rx="1" ry="0.8" fill="rgb(164,164,164)" opacity="0.85"/>
<ellipse cx="261.8" cy="44.4" rx="1.1" ry="1.5" fill="rgb(64,64,64)" opacity="0.85"/>
<ellipse cx="275.3" cy="78" rx="1.5" ry="1.2" fill="rgb(48,48,48)" opacity="0.85"/>
<ellipse cx="277.7" cy="85.9" rx="1.1" ry="1.4" fill="rgb(163,163,163)" opacity="0.85"/>
<ellipse cx="260.8" cy="44.4" rx="1.2" ry="1" fill="rgb(160,160,160)" opacity="0.85"/>
<ellipse cx="275.2" cy="80.8" rx="1.5" ry="1.4" fill="rgb(85,85,85)" opacity="0.85"/>
<ellipse cx="260.4" cy="46.2" rx="1.1" ry="0.9" fill="rgb(62,62,62)" opacity="0.85"/>
<ellipse cx="253.1" cy="33" rx="1.7" ry="1.3" fill="rgb(81,81,81)" opacity="0.85"/>
<ellipse cx="265.9" cy="53.9" rx="0.9" ry="0.9" fill="rgb(173,173,173)" opacity="0.85"/>
<ellipse cx="253.7" cy="27.3" rx="1.7" ry="1" fill="rgb(50,50,50)" opacity="0.85"/>
<ellipse cx="266.7" cy="61.5" rx="1.4" ry="1.1" fill="rgb(70,70,70)" opacity="0.85"/>
<ellipse cx="257" cy="40.6" rx="1.2" ry="1.1" fill="rgb(64,64,64)" opacity="0.85"/>
<ellipse cx="274.8" cy="88.4" rx="1.4" ry="0.8" fill="rgb(73,73,73)" opacity="0.85"/>
<ellipse cx="261.3" cy="50.4" rx="1.1" ry="1.4" fill="rgb(53,53,53)" opacity="0.85"/>
<ellipse cx="258.2" cy="40" rx="0.7" ry="0.7" fill="rgb(158,158,158)" opacity="0.85"/>
<ellipse cx="280.1" cy="92.3" rx="1.4" ry="0.8" fill="rgb(169,169,169)" opacity="0.85"/>
<ellipse cx="260.9" cy="46.4" rx="1" ry="1.2" fill="rgb(68,68,68)" opacity="0.85"/>
<ellipse cx="258.4" cy="36.2" rx="1.1" ry="1" fill="rgb(76,76,76)" opacity="0.85"/>
<ellipse cx="272.9" cy="72.1" rx="1.2" ry="0.8" fill="rgb(162,162,162)" opacity="0.85"/>
<ellipse cx="277.3" cy="94.9" rx="1.6" ry="1.1" fill="rgb(177,177,177)" opacity="0.85"/>
<ellipse cx="266.1" cy="60.7" rx="1.7" ry="0.8" fill="rgb(151,151,151)" opacity="0.85"/>
<ellipse cx="257.9" cy="37.5" rx="1" ry="1.3" fill="rgb(82,82,82)" opacity="0.85"/>
<ellipse cx="265.9" cy="53.5" rx="1.3" ry="0.9" fill="rgb(68,68,68)" opacity="0.85"/>
<ellipse cx="276.9" cy="96.9" rx="1.8" ry="1" fill="rgb(66,66,66)" opacity="0.85"/>
<ellipse cx="276.7" cy="83.5" rx="1.4" ry="1" fill="rgb(48,48,48)" opacity="0.85"/>
<ellipse cx="271.2" cy="64.8" rx="1.1" ry="1.5" fill="rgb(73,73,73)" opacity="0.85"/>
<ellipse cx="254.7" cy="36.3" rx="1.1" ry="1.5" fill="rgb(76,76,76)" opacity="0.85"/>
<ellipse cx="261.7" cy="47.1" rx="1" ry="0.7" fill="rgb(59,59,59)" opacity="0.85"/>
<ellipse cx="279" cy="86.6" rx="0.8" ry="1.4" fill="rgb(80,80,80)" opacity="0.85"/>
<ellipse cx="279.1" cy="97.8" rx="1.1" ry="1.3" fill="rgb(46,46,46)" opacity="0.85"/>
<ellipse cx="279" cy="91.3" rx="0.9" ry="1.2" fill="rgb(55,55,55)" opacity="0.85"/>
<ellipse cx="272.9" cy="73.3" rx="1.5" ry="1.1" fill="rgb(68,68,68)" opacity="0.85"/>
<ellipse cx="261.3" cy="47.7" rx="1.5" ry="1.4" fill="rgb(182,182,182)" opacity="0.85"/>
<ellipse cx="253.5" cy="36.4" rx="1.3" ry="1.3" fill="rgb(73,73,73)" opacity="0.85"/>
<ellipse cx="250.8" cy="29" rx="1.1" ry="1" fill="rgb(153,153,153)" opacity="0.85"/>
<ellipse cx="278.3" cy="95.9" rx="1.1" ry="1.3" fill="rgb(166,166,166)" opacity="0.85"/>
<ellipse cx="257" cy="43.2" rx="1.3" ry="1.1" fill="rgb(158,158,158)" opacity="0.85"/>
<ellipse cx="301.2" cy="129.7" rx="0.6" ry="0.7" fill="rgb(105,105,105)" opacity="0.85"/>
<ellipse cx="302.7" cy="130.6" rx="1" ry="1.1" fill="rgb(185,185,185)" opacity="0.85"/>
<ellipse cx="286.7" cy="108.5" rx="0.8" ry="1.1" fill="rgb(121,121,121)" opacity="0.85"/>
<ellipse cx="283.3" cy="107.1" rx="0.7" ry="0.7" fill="rgb(101,101,101)" opacity="0.85"/>
<ellipse cx="303.8" cy="129" rx="1.2" ry="1" fill="rgb(100,100,100)" opacity="0.85"/>
<ellipse cx="287" cy="109.1" rx="1" ry="0.6" fill="rgb(196,196,196)" opacity="0.85"/>
<ellipse cx="304" cy="132.4" rx="1" ry="0.6" fill="rgb(182,182,182)" opacity="0.85"/>
<ellipse cx="293.9" cy="119.4" rx="0.9" ry="1" fill="rgb(103,103,103)" opacity="0.85"/>
<ellipse cx="296.4" cy="122.7" rx="1" ry="0.6" fill="rgb(178,178,178)" opacity="0.85"/>
<ellipse cx="305.1" cy="131.2" rx="0.8" ry="0.7" fill="rgb(106,106,106)" opacity="0.85"/>
<ellipse cx="282.1" cy="99.5" rx="0.6" ry="0.6" fill="rgb(191,191,191)" opacity="0.85"/>
<ellipse cx="291.7" cy="121.6" rx="0.9" ry="0.7" fill="rgb(183,183,183)" opacity="0.85"/>
<ellipse cx="301.2" cy="126.6" rx="1.2" ry="0.7" fill="rgb(121,121,121)" opacity="0.85"/>
<ellipse cx="286.5" cy="112.6" rx="1" ry="1.1" fill="rgb(184,184,184)" opacity="0.85"/>
<ellipse cx="282.2" cy="99.7" rx="1" ry="0.7" fill="rgb(103,103,103)" opacity="0.85"/>
<ellipse cx="283.9" cy="104.7" rx="1.2" ry="0.5" fill="rgb(100,100,100)" opacity="0.85"/>
<ellipse cx="288.6" cy="113.1" rx="1.2" ry="0.8" fill="rgb(195,195,195)" opacity="0.85"/>
<ellipse cx="290.2" cy="119.4" rx="0.6" ry="1.1" fill="rgb(194,194,194)" opacity="0.85"/>
<ellipse cx="296.6" cy="124.4" rx="0.5" ry="0.8" fill="rgb(189,189,189)" opacity="0.85"/>
<ellipse cx="284.5" cy="108.8" rx="1.1" ry="0.7" fill="rgb(108,108,108)" opacity="0.85"/>
<ellipse cx="229" cy="73.7" rx="0.4" ry="0.8" fill="rgb(87,87,87)" opacity="0.7"/>
<ellipse cx="227.9" cy="70.7" rx="0.8" ry="0.5" fill="rgb(83,83,83)" opacity="0.7"/>
<ellipse cx="231.6" cy="80" rx="0.5" ry="0.6" fill="rgb(113,113,113)" opacity="0.7"/>
<ellipse cx="216.9" cy="74.3" rx="0.7" ry="0.4" fill="rgb(81,81,81)" opacity="0.7"/>
<ellipse cx="225.6" cy="75.3" rx="1" ry="0.9" fill="rgb(90,90,90)" opacity="0.7"/>
<ellipse cx="232" cy="62.7" rx="0.6" ry="0.9" fill="rgb(81,81,81)" opacity="0.7"/>
<ellipse cx="215.7" cy="94.6" rx="0.7" ry="1" fill="rgb(97,97,97)" opacity="0.7"/>
<ellipse cx="225.5" cy="87.8" rx="0.9" ry="0.4" fill="rgb(81,81,81)" opacity="0.7"/>
<ellipse cx="222.8" cy="92.4" rx="0.9" ry="0.7" fill="rgb(81,81,81)" opacity="0.7"/>
<ellipse cx="213.3" cy="86.1" rx="0.6" ry="0.8" fill="rgb(112,112,112)" opacity="0.7"/>
<ellipse cx="218.3" cy="82.3" rx="0.9" ry="0.8" fill="rgb(98,98,98)" opacity="0.7"/>
<ellipse cx="225.6" cy="80.7" rx="0.5" ry="0.8" fill="rgb(77,77,77)" opacity="0.7"/>
<ellipse cx="231.6" cy="76.4" rx="0.7" ry="0.6" fill="rgb(99,99,99)" opacity="0.7"/>
<ellipse cx="218.8" cy="81.8" rx="0.4" ry="1" fill="rgb(106,106,106)" opacity="0.7"/>
<ellipse cx="226.2" cy="76.9" rx="0.8" ry="0.8" fill="rgb(88,88,88)" opacity="0.7"/>
<ellipse cx="236.3" cy="67" rx="0.6" ry="0.6" fill="rgb(99,99,99)" opacity="0.7"/>
<ellipse cx="228.6" cy="68.2" rx="1" ry="0.6" fill="rgb(100,100,100)" opacity="0.7"/>
<ellipse cx="234.7" cy="66.2" rx="0.5" ry="0.5" fill="rgb(101,101,101)" opacity="0.7"/>
<ellipse cx="236.1" cy="88.1" rx="0.9" ry="0.9" fill="rgb(79,79,79)" opacity="0.7"/>
<ellipse cx="225.8" cy="94.8" rx="0.5" ry="0.4" fill="rgb(74,74,74)" opacity="0.7"/>
<ellipse cx="221.6" cy="79.1" rx="0.7" ry="0.7" fill="rgb(92,92,92)" opacity="0.7"/>
<ellipse cx="234.6" cy="68.5" rx="1" ry="0.5" fill="rgb(87,87,87)" opacity="0.7"/>
<ellipse cx="215.7" cy="76.5" rx="0.9" ry="0.4" fill="rgb(101,101,101)" opacity="0.7"/>
<ellipse cx="225.4" cy="63.8" rx="1" ry="0.4" fill="rgb(105,105,105)" opacity="0.7"/>
<ellipse cx="236.5" cy="88.8" rx="0.5" ry="0.4" fill="rgb(81,81,81)" opacity="0.7"/>
<ellipse cx="221.6" cy="90.5" rx="0.5" ry="0.5" fill="rgb(88,88,88)" opacity="0.7"/>
<ellipse cx="222.7" cy="90" rx="0.7" ry="0.7" fill="rgb(109,109,109)" opacity="0.7"/>
<ellipse cx="215.2" cy="83.4" rx="0.8" ry="0.9" fill="rgb(104,104,104)" opacity="0.7"/>
<ellipse cx="231.2" cy="68.5" rx="1" ry="0.6" fill="rgb(112,112,112)" opacity="0.7"/>
<ellipse cx="233.4" cy="85.1" rx="1" ry="0.8" fill="rgb(110,110,110)" opacity="0.7"/>
</g>
<text x="103.6" y="22.6" font-family="Liberation Serif, serif" font-size="7" fill="#2a2a2a">(a)</text>
<text x="233.3" y="22.8" font-family="Liberation Serif, serif" font-size="7" fill="#3a3a3a">(b)</text>
</g></g>
<path d="M366 82.2 L451 100.0 L450.2 103.6 L365.4 85.6 Z" fill="#7b7b7b"/><polygon points="339.4,77 367.7,75 365.5,91.7" fill="#7b7b7b"/>
<text x="50.0" y="90.6" text-anchor="end" font-family="Liberation Serif, serif" font-size="11.3" fill="#111" stroke="#111" stroke-width="0.15">10<tspan dx="-0.6" dy="-5.6" font-size="10.2">0</tspan></text>
<text x="50.0" y="137.6" text-anchor="end" font-family="Liberation Serif, serif" font-size="11.3" fill="#111" stroke="#111" stroke-width="0.15">10<tspan dx="-0.6" dy="-5.6" font-size="10.2">-2</tspan></text>
<text x="50.0" y="184.6" text-anchor="end" font-family="Liberation Serif, serif" font-size="11.3" fill="#111" stroke="#111" stroke-width="0.15">10<tspan dx="-0.6" dy="-5.6" font-size="10.2">-4</tspan></text>
<text x="50.0" y="231.6" text-anchor="end" font-family="Liberation Serif, serif" font-size="11.3" fill="#111" stroke="#111" stroke-width="0.15">10<tspan dx="-0.6" dy="-5.6" font-size="10.2">-6</tspan></text>
<text x="50.0" y="278.6" text-anchor="end" font-family="Liberation Serif, serif" font-size="11.3" fill="#111" stroke="#111" stroke-width="0.15">10<tspan dx="-0.6" dy="-5.6" font-size="10.2">-8</tspan></text>
<text x="50.0" y="325.6" text-anchor="end" font-family="Liberation Serif, serif" font-size="11.3" fill="#111" stroke="#111" stroke-width="0.15">10<tspan dx="-0.6" dy="-5.6" font-size="10.2">-10</tspan></text>
<text x="50.0" y="372.6" text-anchor="end" font-family="Liberation Serif, serif" font-size="11.3" fill="#111" stroke="#111" stroke-width="0.15">10<tspan dx="-0.6" dy="-5.6" font-size="10.2">-12</tspan></text>
<text x="50.0" y="419.6" text-anchor="end" font-family="Liberation Serif, serif" font-size="11.3" fill="#111" stroke="#111" stroke-width="0.15">10<tspan dx="-0.6" dy="-5.6" font-size="10.2">-14</tspan></text>
<text x="206" y="432" text-anchor="middle" font-family="Liberation Serif, serif" font-size="12" fill="#111" stroke="#111" stroke-width="0.2">1yr</text>
<text x="232.3" y="432" text-anchor="middle" font-family="Liberation Serif, serif" font-size="12" fill="#111" stroke="#111" stroke-width="0.2">0.5yr</text>
<text x="303.8" y="432" text-anchor="middle" font-family="Liberation Serif, serif" font-size="12" fill="#111" stroke="#111" stroke-width="0.2">1m</text>
<text x="327.4" y="432" text-anchor="middle" font-family="Liberation Serif, serif" font-size="12" fill="#111" stroke="#111" stroke-width="0.2">0.5m</text>
<text x="431.2" y="432" text-anchor="middle" font-family="Liberation Serif, serif" font-size="12" fill="#111" stroke="#111" stroke-width="0.2">1d</text>
<text x="455.7" y="432" text-anchor="middle" font-family="Liberation Serif, serif" font-size="12" fill="#111" stroke="#111" stroke-width="0.2">0.5d</text>
<text x="292" y="445.7" text-anchor="middle" font-family="Liberation Serif, serif" font-size="12" fill="#111" stroke="#111" stroke-width="0.2">Period</text>
<text x="472.2" y="76.4" text-anchor="middle" font-family="Liberation Serif, serif" font-size="6.3" fill="#111">8.2h</text>
<text x="491.3" y="76.4" text-anchor="middle" font-family="Liberation Serif, serif" font-size="6.3" fill="#111">4.9h</text>
<text x="509.4" y="76.4" text-anchor="middle" font-family="Liberation Serif, serif" font-size="6.3" fill="#111">3.1h</text>
<text x="482.4" y="426.8" text-anchor="middle" font-family="Liberation Serif, serif" font-size="6.3" fill="#111">6.2h</text>
<text x="497.8" y="426.8" text-anchor="middle" font-family="Liberation Serif, serif" font-size="6.3" fill="#111">4.1h</text>
<text x="517.5" y="426.8" text-anchor="middle" font-family="Liberation Serif, serif" font-size="6.3" fill="#111">2.5h</text>
<text transform="translate(19.8 248.8) rotate(-90)" text-anchor="middle" font-family="Liberation Serif, serif" font-size="11.8" fill="#111" stroke="#111" stroke-width="0.15">PSD (km<tspan dy="-6" font-size="8.5">4</tspan><tspan dy="6"> h)</tspan></text>
<text transform="translate(66.6 297.4) scale(1 1.1)" font-family="Liberation Serif, serif" font-size="14.1" fill="#1a1a1a" stroke="#1a1a1a" stroke-width="0.22">The&#160; wetland area shows multi-scale variabilities,</text>
<text transform="translate(66.6 322.7) scale(1 1.1)" font-family="Liberation Serif, serif" font-size="14.1" fill="#1a1a1a" stroke="#1a1a1a" stroke-width="0.22">from hours to decades, and also a decreasing trend,</text>
<text transform="translate(66.6 347.5) scale(1 1.1)" font-family="Liberation Serif, serif" font-size="14.1" fill="#1a1a1a" stroke="#1a1a1a" stroke-width="0.22">which are related to tides, monsoon, ENSO, PDO</text>
<text transform="translate(66.6 372.5) scale(1 1.1)" font-family="Liberation Serif, serif" font-size="14.1" fill="#1a1a1a" stroke="#1a1a1a" stroke-width="0.22">and global warming.</text>
</svg>
</body></html>
